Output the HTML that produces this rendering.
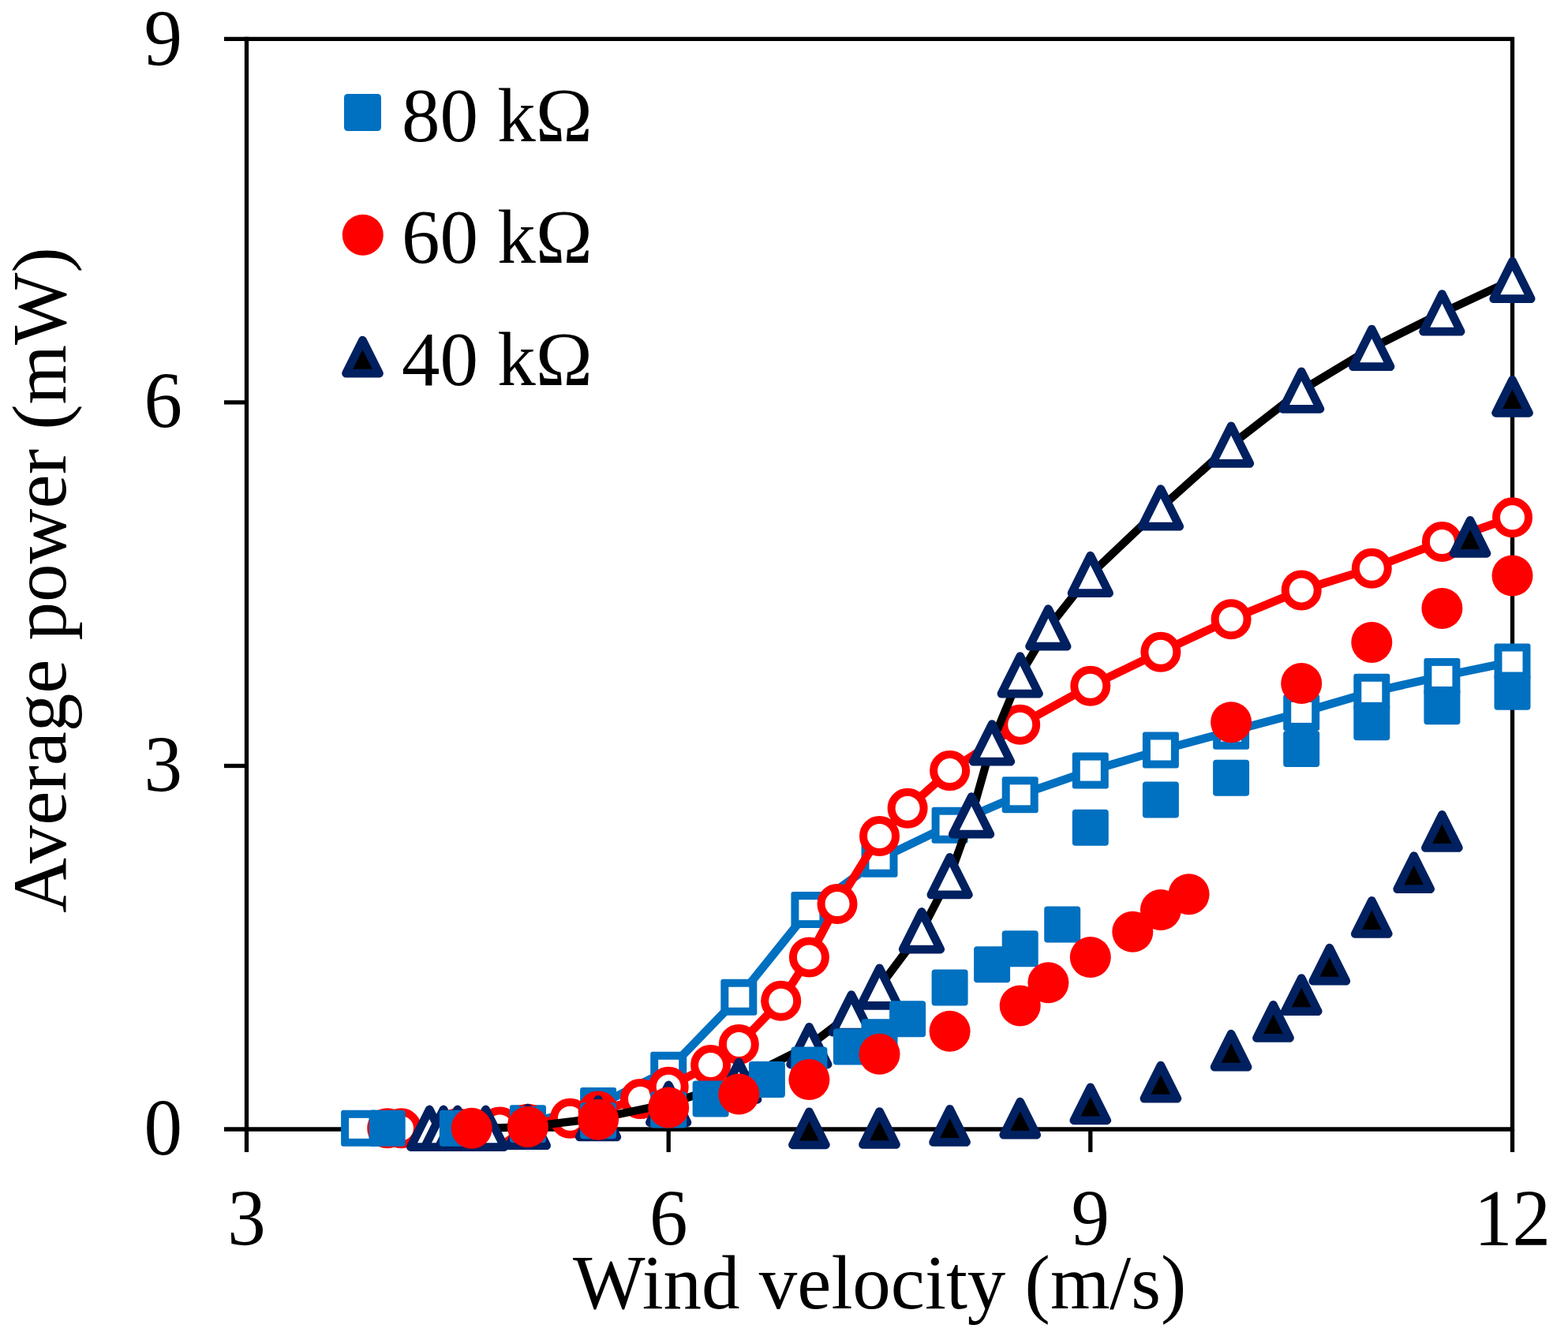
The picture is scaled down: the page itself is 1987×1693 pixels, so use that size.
<!DOCTYPE html>
<html><head><meta charset="utf-8"><title>Average power vs wind velocity</title>
<style>html,body{margin:0;padding:0;background:#fff;overflow:hidden;}svg{display:block;}text{font-family:"Liberation Serif","Times New Roman",serif;fill:#000;}</style></head><body>
<svg width="1987" height="1693" viewBox="0 0 1987 1693">
<rect width="1987" height="1693" fill="#fff"/>
<g stroke="#000" stroke-width="5.3" fill="none" stroke-linecap="butt">
<path d="M284 49.4H1916.5V1431H284"/>
<path d="M312.5 46.8V1460"/>
<path d="M284 970.5H312.5"/>
<path d="M284 509.9H312.5"/>
<path d="M847.2 1431V1460"/>
<path d="M1381.8 1431V1460"/>
<path d="M1916.5 1431V1460"/>
</g>
<g font-size="97">
<text transform="translate(231 1463.3) scale(1 1.04)" text-anchor="end">0</text>
<text transform="translate(231 1002.8) scale(1 1.04)" text-anchor="end">3</text>
<text transform="translate(231 542.2) scale(1 1.04)" text-anchor="end">6</text>
<text transform="translate(231 82.9) scale(1 1.04)" text-anchor="end">9</text>
<text transform="translate(312.5 1577.5) scale(1 1.04)" text-anchor="middle">3</text>
<text transform="translate(847.2 1577.5) scale(1 1.04)" text-anchor="middle">6</text>
<text transform="translate(1381.8 1577.5) scale(1 1.04)" text-anchor="middle">9</text>
<text transform="translate(1916.5 1577.5) scale(1 1.04)" text-anchor="middle">12</text>
<text x="726" y="1658">Wind velocity (m/s)</text>
<text transform="translate(83.2 1157) rotate(-90)">Average power (mW)</text>
</g>
<polyline points="455.1,1429.8 490.7,1429.8 579.8,1429.8 668.9,1423.3 758.1,1400.9 847.2,1355.8 936.3,1263.7 1025.4,1153.1 1114.5,1088.7 1203.6,1045.7 1292.7,1007.3 1381.8,976.6 1470.9,950.5 1560.1,926.7 1649.2,902.9 1738.3,876.8 1827.4,856.9 1916.5,838.5" fill="none" stroke="#0070C0" stroke-width="10.6" stroke-linejoin="round"/>
<g><rect x="432.1" y="1406.8" width="46" height="46" rx="3" fill="#0070C0"/><rect x="442.1" y="1416.8" width="26" height="26" fill="#fff"/></g>
<g><rect x="467.7" y="1406.8" width="46" height="46" rx="3" fill="#0070C0"/><rect x="477.7" y="1416.8" width="26" height="26" fill="#fff"/></g>
<g><rect x="556.8" y="1406.8" width="46" height="46" rx="3" fill="#0070C0"/><rect x="566.8" y="1416.8" width="26" height="26" fill="#fff"/></g>
<g><rect x="645.9" y="1400.3" width="46" height="46" rx="3" fill="#0070C0"/><rect x="655.9" y="1410.3" width="26" height="26" fill="#fff"/></g>
<g><rect x="735.1" y="1377.9" width="46" height="46" rx="3" fill="#0070C0"/><rect x="745.1" y="1387.9" width="26" height="26" fill="#fff"/></g>
<g><rect x="824.2" y="1332.8" width="46" height="46" rx="3" fill="#0070C0"/><rect x="834.2" y="1342.8" width="26" height="26" fill="#fff"/></g>
<g><rect x="913.3" y="1240.7" width="46" height="46" rx="3" fill="#0070C0"/><rect x="923.3" y="1250.7" width="26" height="26" fill="#fff"/></g>
<g><rect x="1002.4" y="1130.1" width="46" height="46" rx="3" fill="#0070C0"/><rect x="1012.4" y="1140.1" width="26" height="26" fill="#fff"/></g>
<g><rect x="1091.5" y="1065.7" width="46" height="46" rx="3" fill="#0070C0"/><rect x="1101.5" y="1075.7" width="26" height="26" fill="#fff"/></g>
<g><rect x="1180.6" y="1022.7" width="46" height="46" rx="3" fill="#0070C0"/><rect x="1190.6" y="1032.7" width="26" height="26" fill="#fff"/></g>
<g><rect x="1269.7" y="984.3" width="46" height="46" rx="3" fill="#0070C0"/><rect x="1279.7" y="994.3" width="26" height="26" fill="#fff"/></g>
<g><rect x="1358.8" y="953.6" width="46" height="46" rx="3" fill="#0070C0"/><rect x="1368.8" y="963.6" width="26" height="26" fill="#fff"/></g>
<g><rect x="1447.9" y="927.5" width="46" height="46" rx="3" fill="#0070C0"/><rect x="1457.9" y="937.5" width="26" height="26" fill="#fff"/></g>
<g><rect x="1537.1" y="903.7" width="46" height="46" rx="3" fill="#0070C0"/><rect x="1547.1" y="913.7" width="26" height="26" fill="#fff"/></g>
<g><rect x="1626.2" y="879.9" width="46" height="46" rx="3" fill="#0070C0"/><rect x="1636.2" y="889.9" width="26" height="26" fill="#fff"/></g>
<g><rect x="1715.3" y="853.8" width="46" height="46" rx="3" fill="#0070C0"/><rect x="1725.3" y="863.8" width="26" height="26" fill="#fff"/></g>
<g><rect x="1804.4" y="833.9" width="46" height="46" rx="3" fill="#0070C0"/><rect x="1814.4" y="843.9" width="26" height="26" fill="#fff"/></g>
<g><rect x="1893.5" y="815.5" width="46" height="46" rx="3" fill="#0070C0"/><rect x="1903.5" y="825.5" width="26" height="26" fill="#fff"/></g>
<polyline points="490.7,1429.8 508.5,1429.8 579.8,1429.8 633.3,1427.9 668.9,1424.2 722.4,1417.2 758.1,1408 811.5,1392.6 847.2,1377.3 900.6,1349.6 936.3,1323.5 989.7,1268.3 1025.4,1213 1061,1145.5 1114.5,1059.5 1150.1,1024.2 1203.6,976.6 1292.7,918.3 1381.8,869.2 1470.9,826.2 1560.1,784.7 1649.2,747.9 1738.3,720.2 1827.4,686.5 1916.5,655.8" fill="none" stroke="#FF0000" stroke-width="10.6" stroke-linejoin="round"/>
<g fill="#fff" stroke="#FF0000" stroke-width="10.0">
<circle cx="490.7" cy="1429.8" r="20.5"/>
<circle cx="508.5" cy="1429.8" r="20.5"/>
<circle cx="579.8" cy="1429.8" r="20.5"/>
<circle cx="633.3" cy="1427.9" r="20.5"/>
<circle cx="668.9" cy="1424.2" r="20.5"/>
<circle cx="722.4" cy="1417.2" r="20.5"/>
<circle cx="758.1" cy="1408" r="20.5"/>
<circle cx="811.5" cy="1392.6" r="20.5"/>
<circle cx="847.2" cy="1377.3" r="20.5"/>
<circle cx="900.6" cy="1349.6" r="20.5"/>
<circle cx="936.3" cy="1323.5" r="20.5"/>
<circle cx="989.7" cy="1268.3" r="20.5"/>
<circle cx="1025.4" cy="1213" r="20.5"/>
<circle cx="1061" cy="1145.5" r="20.5"/>
<circle cx="1114.5" cy="1059.5" r="20.5"/>
<circle cx="1150.1" cy="1024.2" r="20.5"/>
<circle cx="1203.6" cy="976.6" r="20.5"/>
<circle cx="1292.7" cy="918.3" r="20.5"/>
<circle cx="1381.8" cy="869.2" r="20.5"/>
<circle cx="1470.9" cy="826.2" r="20.5"/>
<circle cx="1560.1" cy="784.7" r="20.5"/>
<circle cx="1649.2" cy="747.9" r="20.5"/>
<circle cx="1738.3" cy="720.2" r="20.5"/>
<circle cx="1827.4" cy="686.5" r="20.5"/>
<circle cx="1916.5" cy="655.8" r="20.5"/>
</g>
<polyline points="544.2,1429.8 562,1429.8 579.8,1429.8 615.5,1429.8 668.9,1427.9 758.1,1417.2 847.2,1398.8 936.3,1369.6 1025.4,1325.1 1078.9,1284.4 1114.5,1250.6 1168,1179.2 1203.6,1110.2 1231.1,1033.4 1257.1,941.3 1292.7,855.3 1328.4,795.5 1381.8,727.9 1470.9,643.5 1560.1,563.7 1649.2,494.6 1738.3,440.9 1827.4,396.3 1916.5,354.9" fill="none" stroke="#000" stroke-width="10.3" stroke-linejoin="round"/>
<g fill="#fff" stroke="#002060" stroke-width="10.75" stroke-linejoin="round">
<path d="M544.2 1406L567.9 1453.5L520.4 1453.5Z"/>
<path d="M562 1406L585.8 1453.5L538.3 1453.5Z"/>
<path d="M579.8 1406L603.6 1453.5L556.1 1453.5Z"/>
<path d="M615.5 1406L639.2 1453.5L591.7 1453.5Z"/>
<path d="M668.9 1404.2L692.7 1451.7L645.2 1451.7Z"/>
<path d="M758.1 1393.4L781.8 1440.9L734.3 1440.9Z"/>
<path d="M847.2 1375L870.9 1422.5L823.4 1422.5Z"/>
<path d="M936.3 1345.8L960 1393.3L912.5 1393.3Z"/>
<path d="M1025.4 1301.3L1049.1 1348.8L1001.6 1348.8Z"/>
<path d="M1078.9 1260.6L1102.6 1308.1L1055.1 1308.1Z"/>
<path d="M1114.5 1226.9L1138.2 1274.4L1090.7 1274.4Z"/>
<path d="M1168 1155.5L1191.7 1203L1144.2 1203Z"/>
<path d="M1203.6 1086.4L1227.4 1133.9L1179.9 1133.9Z"/>
<path d="M1231.1 1009.7L1254.8 1057.2L1207.3 1057.2Z"/>
<path d="M1257.1 917.6L1280.8 965.1L1233.3 965.1Z"/>
<path d="M1292.7 831.6L1316.5 879.1L1269 879.1Z"/>
<path d="M1328.4 771.7L1352.1 819.2L1304.6 819.2Z"/>
<path d="M1381.8 704.2L1405.6 751.7L1358.1 751.7Z"/>
<path d="M1470.9 619.7L1494.7 667.2L1447.2 667.2Z"/>
<path d="M1560.1 539.9L1583.8 587.4L1536.3 587.4Z"/>
<path d="M1649.2 470.8L1672.9 518.3L1625.4 518.3Z"/>
<path d="M1738.3 417.1L1762 464.6L1714.5 464.6Z"/>
<path d="M1827.4 372.6L1851.1 420.1L1803.6 420.1Z"/>
<path d="M1916.5 331.1L1940.2 378.6L1892.7 378.6Z"/>
</g>
<g fill="#000" stroke="#002060" stroke-width="10.7" stroke-linejoin="round">
<path d="M1025.4 1408.8L1046.4 1450.8L1004.4 1450.8Z"/>
<path d="M1114.5 1408.5L1135.5 1450.5L1093.5 1450.5Z"/>
<path d="M1203.6 1405.4L1224.6 1447.4L1182.6 1447.4Z"/>
<path d="M1292.7 1396.2L1313.7 1438.2L1271.7 1438.2Z"/>
<path d="M1381.8 1377.8L1402.8 1419.8L1360.8 1419.8Z"/>
<path d="M1470.9 1350.1L1491.9 1392.1L1449.9 1392.1Z"/>
<path d="M1560.1 1310.2L1581.1 1352.2L1539.1 1352.2Z"/>
<path d="M1613.5 1273.4L1634.5 1315.4L1592.5 1315.4Z"/>
<path d="M1649.2 1239.6L1670.2 1281.6L1628.2 1281.6Z"/>
<path d="M1684.8 1201.2L1705.8 1243.2L1663.8 1243.2Z"/>
<path d="M1738.3 1141.4L1759.3 1183.4L1717.3 1183.4Z"/>
<path d="M1791.7 1084.6L1812.7 1126.6L1770.7 1126.6Z"/>
<path d="M1827.4 1032.4L1848.4 1074.4L1806.4 1074.4Z"/>
<path d="M1863 659.3L1884 701.3L1842 701.3Z"/>
<path d="M1916.5 481.3L1937.5 523.3L1895.5 523.3Z"/>
</g>
<g fill="#0070C0">
<rect x="467.7" y="1406.8" width="46" height="46" rx="4"/>
<rect x="556.8" y="1406.8" width="46" height="46" rx="4"/>
<rect x="645.9" y="1401.9" width="46" height="46" rx="4"/>
<rect x="735.1" y="1397.3" width="46" height="46" rx="4"/>
<rect x="824.2" y="1383.4" width="46" height="46" rx="4"/>
<rect x="877.6" y="1369.6" width="46" height="46" rx="4"/>
<rect x="948.9" y="1345.1" width="46" height="46" rx="4"/>
<rect x="1002.4" y="1326.6" width="46" height="46" rx="4"/>
<rect x="1055.9" y="1303.6" width="46" height="46" rx="4"/>
<rect x="1091.5" y="1291.3" width="46" height="46" rx="4"/>
<rect x="1127.1" y="1268.3" width="46" height="46" rx="4"/>
<rect x="1180.6" y="1228.4" width="46" height="46" rx="4"/>
<rect x="1234.1" y="1199.2" width="46" height="46" rx="4"/>
<rect x="1269.7" y="1179.3" width="46" height="46" rx="4"/>
<rect x="1323.2" y="1148.6" width="46" height="46" rx="4"/>
<rect x="1358.8" y="1025.8" width="46" height="46" rx="4"/>
<rect x="1447.9" y="990.5" width="46" height="46" rx="4"/>
<rect x="1537.1" y="962.8" width="46" height="46" rx="4"/>
<rect x="1626.2" y="926" width="46" height="46" rx="4"/>
<rect x="1715.3" y="892.2" width="46" height="46" rx="4"/>
<rect x="1804.4" y="872.3" width="46" height="46" rx="4"/>
<rect x="1893.5" y="853.8" width="46" height="46" rx="4"/>
</g>
<g fill="#FF0000">
<circle cx="597.7" cy="1429.8" r="26"/>
<circle cx="668.9" cy="1427.9" r="26"/>
<circle cx="758.1" cy="1418.7" r="26"/>
<circle cx="847.2" cy="1403.4" r="26"/>
<circle cx="936.3" cy="1386.5" r="26"/>
<circle cx="1025.4" cy="1368.1" r="26"/>
<circle cx="1114.5" cy="1335.8" r="26"/>
<circle cx="1203.6" cy="1306.7" r="26"/>
<circle cx="1292.7" cy="1274.4" r="26"/>
<circle cx="1328.4" cy="1245.3" r="26"/>
<circle cx="1381.8" cy="1213" r="26"/>
<circle cx="1435.3" cy="1180.8" r="26"/>
<circle cx="1470.9" cy="1153.1" r="26"/>
<circle cx="1506.6" cy="1133.2" r="26"/>
<circle cx="1560.1" cy="915.2" r="26"/>
<circle cx="1649.2" cy="866.1" r="26"/>
<circle cx="1738.3" cy="813.9" r="26"/>
<circle cx="1827.4" cy="770.9" r="26"/>
<circle cx="1916.5" cy="729.5" r="26"/>
</g>
<g fill="#0070C0"><rect x="436" y="119" width="47" height="47" rx="4.5"/></g>
<g fill="#FF0000"><circle cx="459.8" cy="297.7" r="26"/></g>
<g fill="#000" stroke="#002060" stroke-width="10.7" stroke-linejoin="round"><path d="M459.5 431.2L480.5 473.2L438.5 473.2Z"/></g>
<g font-size="97">
<text x="509" y="179">80 kΩ</text>
<text x="509" y="333">60 kΩ</text>
<text x="509" y="487.5">40 kΩ</text>
</g>
</svg></body></html>
